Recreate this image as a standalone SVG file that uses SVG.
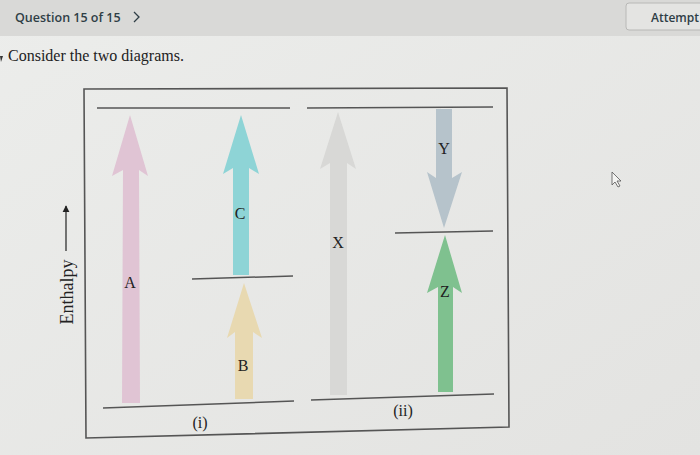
<svg xmlns="http://www.w3.org/2000/svg" width="700" height="455" viewBox="0 0 700 455">
<defs>
<linearGradient id="bg" x1="0" y1="0" x2="1" y2="1">
<stop offset="0" stop-color="#ecedeb"/>
<stop offset="1" stop-color="#e3e3e1"/>
</linearGradient>
<marker id="ah" viewBox="0 0 10 10" refX="9" refY="5" markerWidth="6" markerHeight="6" orient="auto"><path d="M0,0 L10,5 L0,10 z" fill="#222"/></marker>
</defs>
<style>
.lvl{stroke:#555;stroke-width:1.5;fill:none}
.lbl{font-family:"Liberation Serif","Times New Roman",serif;font-size:16px;fill:#222;text-anchor:middle}
.hdr{font-family:"Open Sans","Liberation Sans",sans-serif;font-size:12.5px;font-weight:600;fill:#2f3e46}
</style>
<rect x="0" y="0" width="700" height="455" fill="url(#bg)"/>
<rect x="0" y="0" width="700" height="36" fill="#d9d9d7"/>
<text class="hdr" x="15" y="22">Question 15 of 15</text>
<path d="M134,12 L139,17 L134,22" fill="none" stroke="#2f3e46" stroke-width="1.3"/>
<rect x="626" y="3" width="80" height="27" rx="3" fill="#e4e4e2" stroke="#b8b8b6"/>
<text class="hdr" x="651" y="22" style="font-size:12px">Attempt</text>
<text x="8" y="61" style="font-family:'Liberation Serif','Times New Roman',serif;font-size:16px;fill:#222">Consider the two diagrams.</text>
<path d="M0,56 L3,56 L1,62 z" fill="#333"/>
<path d="M612,172 L612,185 L615,182 L618,187 L620,186 L617,181 L621,181 z" fill="#f4f4f2" stroke="#555" stroke-width="0.8"/>

<g id="frame"><path d="M84,89 L507,88 L509,427 L86,438 Z" fill="none" stroke="#555" stroke-width="1.6"/></g>

<g id="axis">
<text class="lbl" x="0" y="0" transform="translate(73,292) rotate(-90)" style="font-size:18px">Enthalpy</text>
<line x1="66" y1="251" x2="66" y2="206" stroke="#222" stroke-width="1.2" marker-end="url(#ah)"/>
</g>

<g id="levels">
<line class="lvl" x1="97" y1="108" x2="290" y2="108"/>
<line class="lvl" x1="192" y1="279" x2="293" y2="276"/>
<line class="lvl" x1="103" y1="408" x2="294" y2="401"/>
<line class="lvl" x1="307" y1="108" x2="493" y2="107"/>
<line class="lvl" x1="395" y1="233" x2="493" y2="231"/>
<line class="lvl" x1="311" y1="400" x2="494" y2="394"/>
</g>

<g id="arrows">
<g id="A"><path d="M130,115 L148,176 L139,170 L140,403 L122,403 L123,170 L112,176 Z" fill="#e0c4d4"/><text class="lbl" x="130" y="288">A</text></g>
<g id="C"><path d="M241,115 L259,174 L249,168 L249,275 L233,275 L233,168 L223,174 Z" fill="#8ed4d6"/><text class="lbl" x="240" y="219">C</text></g>
<g id="B"><path d="M244,283 L262,338 L253,332 L253,399 L235,399 L235,332 L227,338 Z" fill="#e8d9b1"/><text class="lbl" x="243" y="371">B</text></g>
<g id="X"><path d="M338,112 L356,169 L347,163 L347,395 L330,395 L330,163 L320,169 Z" fill="#d8d8d6"/><text class="lbl" x="338" y="248">X</text></g>
<g id="Y"><path d="M444,228 L462,172 L452,178 L452,109 L436,109 L436,178 L427,172 Z" fill="#b6c3cb"/><text class="lbl" x="444" y="154">Y</text></g>
<g id="Z"><path d="M445,235 L462,293 L453,287 L453,392 L438,392 L438,287 L427,293 Z" fill="#7fc18f"/><text class="lbl" x="445" y="297">Z</text></g>
</g>

<g id="captions">
<text class="lbl" x="200" y="428">(i)</text>
<text class="lbl" x="403" y="416">(ii)</text>
</g>
</svg>
